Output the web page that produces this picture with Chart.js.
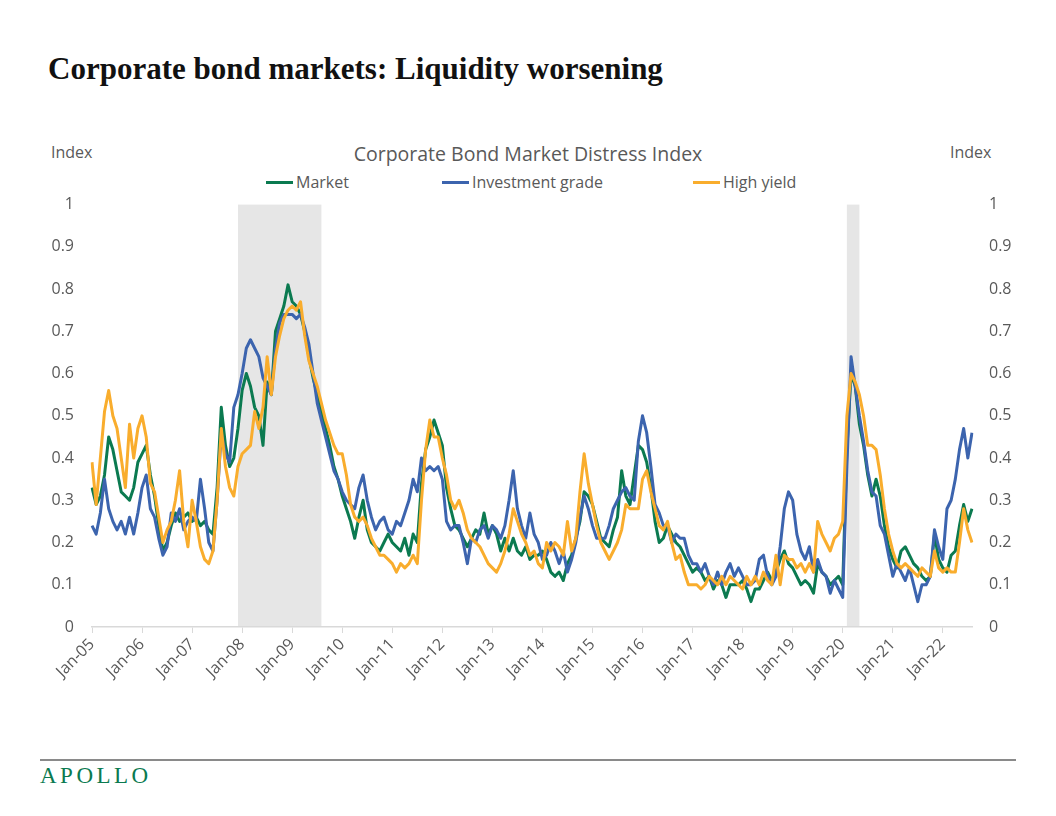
<!DOCTYPE html>
<html>
<head>
<meta charset="utf-8">
<title>Corporate bond markets: Liquidity worsening</title>
<script src="https://cdn.jsdelivr.net/npm/chart.js@4.4.1/dist/chart.umd.min.js"></script>
<style>
  body { margin: 0; width: 1056px; height: 816px; background: #fff; position: relative; overflow: hidden; font-family: "Open Sans", sans-serif; }
  #title { position: absolute; left: 48px; top: 51px; font: bold 31px "Liberation Serif", serif; color: #111; white-space: nowrap; }
  .lbl { position: absolute; color: #595959; font-size: 16px; line-height: 20px; white-space: nowrap; }
  #chart-title { left: 0; width: 1056px; top: 142px; text-align: center; font-size: 19.5px; line-height: 24px; }
  .leg { position: absolute; top: 172px; font-size: 16px; line-height: 20px; color: #595959; white-space: nowrap; }
  .leg i { display: inline-block; width: 27px; height: 3px; vertical-align: middle; margin-right: 3px; position: relative; top: -1px; }
  #chart-distress { position: absolute; left: 0; top: 177px; }
  #rule { position: absolute; left: 40px; top: 759px; width: 976px; border-top: 2px solid #8a8a8a; }
  #logo { position: absolute; left: 40px; top: 763px; font: 23px "Liberation Serif", serif; letter-spacing: 3.5px; color: #0b7a50; }
</style>
</head>
<body>
<div id="title">Corporate bond markets: Liquidity worsening</div>
<div class="lbl" style="left:51px; top:142px;">Index</div>
<div class="lbl" style="left:950px; top:142px;">Index</div>
<div class="lbl" id="chart-title">Corporate Bond Market Distress Index</div>
<div class="leg" style="left:266px;"><i style="background:#0b7a50"></i>Market</div>
<div class="leg" style="left:442px;"><i style="background:#3c64ae"></i>Investment grade</div>
<div class="leg" style="left:693px;"><i style="background:#f9ad2d"></i>High yield</div>
<canvas id="chart-distress" width="1056" height="543"></canvas>
<div id="rule"></div>
<div id="logo">APOLLO</div>

<script>
// Monthly points, Jan-05 to Aug-22
const monthNames = ["Jan", "Feb", "Mar", "Apr", "May", "Jun", "Jul", "Aug", "Sep", "Oct", "Nov", "Dec"];
const months = [];
for (let yr = 2005; yr <= 2022; yr++) {
  for (let mi = 0; mi < 12; mi++) {
    if (yr === 2022 && mi > 7) break;
    months.push(monthNames[mi] + "-" + String(yr).slice(2));
  }
}

// Recessions (shaded, first and last month included)
const recessionStart = ["Dec-07", "Feb-20"];
const recessionEnd = ["Jul-09", "Apr-20"];

const yTicks = [0, 0.1, 0.2, 0.3, 0.4, 0.5, 0.6, 0.7, 0.8, 0.9, 1];

const market = [
  0.33, 0.29, 0.31, 0.36, 0.45, 0.42, 0.37, 0.32, 0.31, 0.30, 0.33, 0.39, // 2005
  0.41, 0.43, 0.36, 0.31, 0.24, 0.18, 0.20, 0.24, 0.27, 0.25, 0.26, 0.27, // 2006
  0.25, 0.26, 0.24, 0.25, 0.23, 0.22, 0.33, 0.52, 0.43, 0.38, 0.40, 0.47, // 2007
  0.56, 0.60, 0.57, 0.52, 0.50, 0.43, 0.58, 0.55, 0.70, 0.73, 0.76, 0.81, // 2008
  0.77, 0.76, 0.74, 0.70, 0.64, 0.59, 0.55, 0.51, 0.47, 0.43, 0.38, 0.35, // 2009
  0.31, 0.28, 0.25, 0.21, 0.26, 0.30, 0.23, 0.20, 0.19, 0.18, 0.20, 0.22, // 2010
  0.20, 0.19, 0.18, 0.21, 0.17, 0.22, 0.20, 0.34, 0.42, 0.45, 0.49, 0.46, // 2011
  0.43, 0.33, 0.28, 0.24, 0.23, 0.21, 0.19, 0.21, 0.23, 0.22, 0.27, 0.22, // 2012
  0.24, 0.22, 0.18, 0.21, 0.18, 0.21, 0.18, 0.17, 0.19, 0.16, 0.17, 0.17, // 2013
  0.18, 0.16, 0.13, 0.12, 0.13, 0.11, 0.15, 0.17, 0.21, 0.25, 0.32, 0.31, // 2014
  0.29, 0.25, 0.21, 0.20, 0.19, 0.23, 0.26, 0.37, 0.31, 0.29, 0.36, 0.43, // 2015
  0.42, 0.39, 0.33, 0.25, 0.20, 0.21, 0.24, 0.22, 0.20, 0.19, 0.17, 0.15, // 2016
  0.13, 0.14, 0.13, 0.11, 0.12, 0.09, 0.11, 0.10, 0.07, 0.10, 0.10, 0.10, // 2017
  0.11, 0.09, 0.06, 0.09, 0.09, 0.11, 0.13, 0.11, 0.13, 0.16, 0.18, 0.15, // 2018
  0.14, 0.12, 0.10, 0.11, 0.10, 0.08, 0.15, 0.13, 0.12, 0.10, 0.11, 0.12, // 2019
  0.10, 0.42, 0.60, 0.57, 0.48, 0.43, 0.36, 0.31, 0.35, 0.31, 0.24, 0.19, // 2020
  0.16, 0.14, 0.18, 0.19, 0.17, 0.15, 0.14, 0.12, 0.11, 0.12, 0.22, 0.16, // 2021
  0.14, 0.13, 0.17, 0.18, 0.24, 0.29, 0.25, 0.28                          // 2022
];

const investmentGrade = [
  0.24, 0.22, 0.27, 0.35, 0.28, 0.25, 0.23, 0.25, 0.22, 0.26, 0.22, 0.27, // 2005
  0.33, 0.36, 0.28, 0.26, 0.21, 0.17, 0.19, 0.27, 0.25, 0.28, 0.23, 0.25, // 2006
  0.26, 0.25, 0.35, 0.28, 0.20, 0.18, 0.30, 0.46, 0.41, 0.39, 0.52, 0.55, // 2007
  0.60, 0.66, 0.68, 0.66, 0.64, 0.59, 0.57, 0.55, 0.66, 0.72, 0.74, 0.74, // 2008
  0.74, 0.73, 0.74, 0.71, 0.67, 0.60, 0.53, 0.49, 0.45, 0.41, 0.37, 0.35, // 2009
  0.32, 0.30, 0.29, 0.28, 0.33, 0.36, 0.30, 0.26, 0.23, 0.25, 0.26, 0.23, // 2010
  0.22, 0.25, 0.24, 0.27, 0.30, 0.35, 0.32, 0.40, 0.37, 0.38, 0.37, 0.38, // 2011
  0.35, 0.25, 0.23, 0.24, 0.24, 0.20, 0.15, 0.21, 0.20, 0.23, 0.24, 0.21, // 2012
  0.24, 0.23, 0.21, 0.24, 0.30, 0.37, 0.28, 0.24, 0.21, 0.27, 0.22, 0.20, // 2013
  0.16, 0.17, 0.20, 0.18, 0.15, 0.18, 0.13, 0.16, 0.20, 0.26, 0.31, 0.28, // 2014
  0.24, 0.21, 0.21, 0.21, 0.24, 0.28, 0.30, 0.32, 0.33, 0.31, 0.30, 0.44, // 2015
  0.50, 0.46, 0.38, 0.29, 0.27, 0.24, 0.24, 0.20, 0.22, 0.21, 0.21, 0.17, // 2016
  0.15, 0.15, 0.13, 0.15, 0.12, 0.10, 0.13, 0.10, 0.13, 0.15, 0.12, 0.14, // 2017
  0.12, 0.10, 0.10, 0.11, 0.16, 0.17, 0.12, 0.10, 0.12, 0.19, 0.28, 0.32, // 2018
  0.30, 0.22, 0.18, 0.16, 0.19, 0.13, 0.16, 0.13, 0.12, 0.08, 0.11, 0.09, // 2019
  0.07, 0.38, 0.64, 0.57, 0.50, 0.44, 0.37, 0.32, 0.31, 0.24, 0.22, 0.17, // 2020
  0.12, 0.15, 0.13, 0.11, 0.14, 0.10, 0.06, 0.10, 0.10, 0.12, 0.23, 0.19, // 2021
  0.16, 0.28, 0.30, 0.35, 0.42, 0.47, 0.40, 0.46                          // 2022
];

const highYield = [
  0.39, 0.29, 0.40, 0.51, 0.56, 0.50, 0.47, 0.40, 0.33, 0.48, 0.40, 0.47, // 2005
  0.50, 0.45, 0.34, 0.32, 0.26, 0.20, 0.23, 0.25, 0.30, 0.37, 0.25, 0.19, // 2006
  0.30, 0.25, 0.19, 0.16, 0.15, 0.18, 0.30, 0.47, 0.38, 0.33, 0.31, 0.38, // 2007
  0.41, 0.42, 0.43, 0.51, 0.47, 0.52, 0.64, 0.55, 0.64, 0.69, 0.73, 0.75, // 2008
  0.76, 0.75, 0.77, 0.69, 0.63, 0.60, 0.57, 0.53, 0.49, 0.46, 0.43, 0.41, // 2009
  0.41, 0.36, 0.29, 0.26, 0.25, 0.26, 0.24, 0.21, 0.19, 0.17, 0.17, 0.16, // 2010
  0.15, 0.13, 0.15, 0.14, 0.15, 0.17, 0.15, 0.30, 0.42, 0.49, 0.45, 0.45, // 2011
  0.40, 0.36, 0.30, 0.28, 0.30, 0.27, 0.23, 0.21, 0.20, 0.19, 0.17, 0.15, // 2012
  0.14, 0.13, 0.15, 0.18, 0.22, 0.28, 0.25, 0.22, 0.20, 0.17, 0.18, 0.15, // 2013
  0.14, 0.20, 0.18, 0.20, 0.19, 0.17, 0.25, 0.18, 0.21, 0.32, 0.41, 0.34, // 2014
  0.29, 0.24, 0.20, 0.18, 0.16, 0.18, 0.20, 0.23, 0.29, 0.28, 0.28, 0.28, // 2015
  0.35, 0.37, 0.32, 0.28, 0.24, 0.23, 0.25, 0.20, 0.16, 0.17, 0.13, 0.10, // 2016
  0.10, 0.10, 0.09, 0.10, 0.12, 0.11, 0.10, 0.12, 0.10, 0.12, 0.11, 0.10, // 2017
  0.09, 0.12, 0.10, 0.12, 0.10, 0.13, 0.11, 0.10, 0.17, 0.10, 0.17, 0.16, // 2018
  0.16, 0.14, 0.15, 0.13, 0.15, 0.13, 0.25, 0.22, 0.20, 0.18, 0.21, 0.22, // 2019
  0.25, 0.50, 0.60, 0.58, 0.55, 0.50, 0.43, 0.43, 0.42, 0.36, 0.28, 0.22, // 2020
  0.18, 0.15, 0.14, 0.15, 0.14, 0.13, 0.12, 0.14, 0.13, 0.12, 0.18, 0.14, // 2021
  0.13, 0.14, 0.13, 0.13, 0.20, 0.28, 0.23, 0.20                          // 2022
];

// grey bands behind the lines
const recessionBands = {
  id: "recessionBands",
  beforeDraw(chart) {
    const xs = chart.scales.x;
    const ys = chart.scales.y;
    const c = chart.ctx;
    const step = xs.getPixelForValue(1) - xs.getPixelForValue(0);
    const top = ys.getPixelForValue(1);
    const bottom = ys.getPixelForValue(0);
    c.save();
    c.fillStyle = "#e6e6e6";
    for (let i = 0; i < recessionStart.length; i++) {
      const x1 = xs.getPixelForValue(months.indexOf(recessionStart[i]));
      const x2 = xs.getPixelForValue(months.indexOf(recessionEnd[i])) + step;
      c.fillRect(x1, top, x2 - x1, bottom - top);
    }
    c.restore();
  }
};

const tickColor = "#595959";

function yAxis(position, pad, width) {
  return {
    position: position,
    min: 0,
    max: 1,
    afterBuildTicks(scale) {
      scale.ticks = yTicks.map(v => ({ value: v }));
    },
    ticks: {
      color: tickColor,
      font: { size: 16 },
      padding: pad,
      callback: v => String(v)
    },
    grid: { display: false, drawTicks: false },
    border: { display: false },
    afterFit(scale) { scale.width = width; }
  };
}

const ctx = document.getElementById("chart-distress").getContext("2d");
new Chart(ctx, {
  type: "line",
  data: {
    labels: months,
    datasets: [
      { label: "Market", data: market, borderColor: "#0b7a50", order: 3 },
      { label: "Investment grade", data: investmentGrade, borderColor: "#3c64ae", order: 2 },
      { label: "High yield", data: highYield, borderColor: "#f9ad2d", order: 1 }
    ]
  },
  options: {
    responsive: false,
    animation: false,
    devicePixelRatio: 1,
    layout: { padding: 0 },
    elements: {
      point: { radius: 0 },
      line: { borderWidth: 3, tension: 0, borderJoinStyle: "round", backgroundColor: "transparent" }
    },
    plugins: {
      legend: { display: false },
      tooltip: { enabled: false }
    },
    font: { family: "'Open Sans', sans-serif" },
    scales: {
      x: {
        type: "category",
        offset: false,
        grid: { display: true, drawOnChartArea: false, drawTicks: true, tickLength: 6, color: "#d9d9d9" },
        border: { display: true, color: "#d9d9d9", width: 1.5 },
        ticks: {
          autoSkip: false,
          minRotation: 45,
          maxRotation: 45,
          color: tickColor,
          font: { size: 16 },
          padding: 2,
          callback: function (value, index) {
            return index % 12 === 0 ? this.getLabelForValue(value) : null;
          }
        },
        afterFit(scale) { scale.height = 93; }
      },
      y: yAxis("left", 18, 92),
      y2: yAxis("right", 17, 84)
    }
  },
  plugins: [recessionBands]
});
</script>
</body>
</html>
